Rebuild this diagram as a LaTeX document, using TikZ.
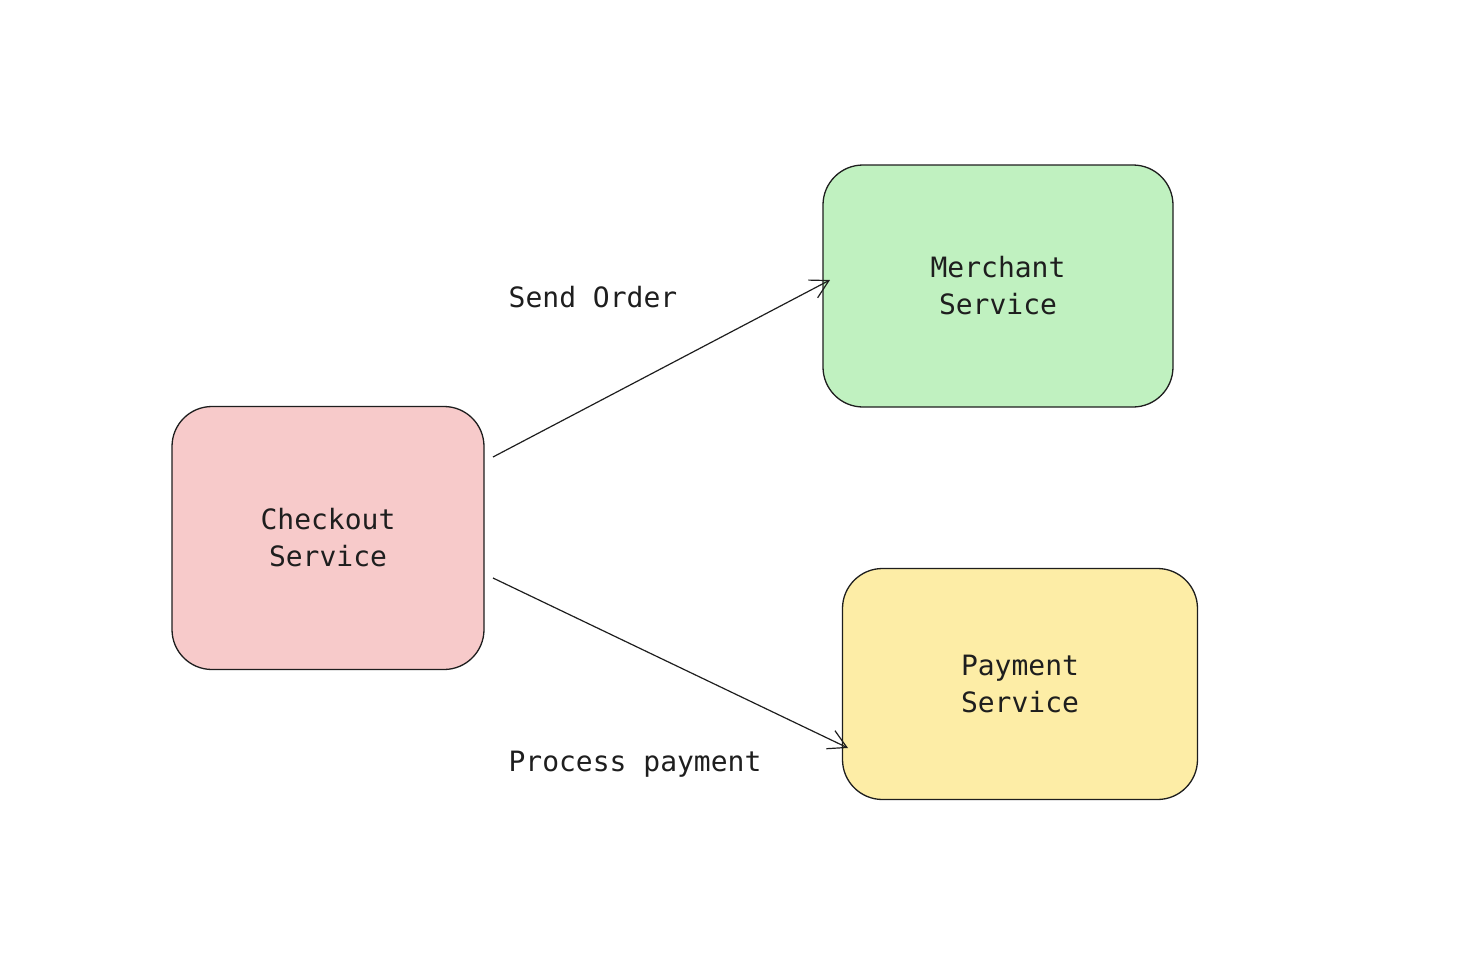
\documentclass[tikz,border=0pt]{standalone}
\usepackage{fontspec}
\setmonofont{DejaVu Sans Mono}
\usetikzlibrary{arrows.meta}
\definecolor{pinkf}{HTML}{F7CACA}
\definecolor{greenf}{HTML}{C0F1C0}
\definecolor{yellowf}{HTML}{FDEDA6}
\definecolor{ink}{HTML}{1E1E1E}
\tikzset{
  svc/.style={draw=ink, line width=1.3pt, rounded corners=40pt, inner sep=0pt, align=center,
    font=\ttfamily\fontsize{28}{37}\selectfont, text=ink},
  lbl/.style={font=\ttfamily\fontsize{28}{37}\selectfont, text=ink},
  conn/.style={draw=ink, line width=1.2pt, -{Straight Barb[length=18pt,width=20pt]}}
}
\begin{document}
\begin{tikzpicture}[x=1pt,y=-1pt]
\useasboundingbox (0,0) rectangle (1460,974);
\node[svc, fill=pinkf, minimum width=312pt, minimum height=263pt] (co) at (328,538) {Checkout\\Service};
\node[svc, fill=greenf, minimum width=350pt, minimum height=242pt] (me) at (998,286) {Merchant\\Service};
\node[svc, fill=yellowf, minimum width=355pt, minimum height=231pt] (pa) at (1020,684) {Payment\\Service};
\coordinate (a1) at (493,457);
\coordinate (a2) at (830,280);
\coordinate (b1) at (493,578);
\coordinate (b2) at (848,748);
\draw[conn] (a1) -- (a2);
\draw[conn] (b1) -- (b2);
\node[lbl] (l1) at (593,297) {Send Order};
\node[lbl] (l2) at (635,764) {Process payment};
\end{tikzpicture}
\end{document}
